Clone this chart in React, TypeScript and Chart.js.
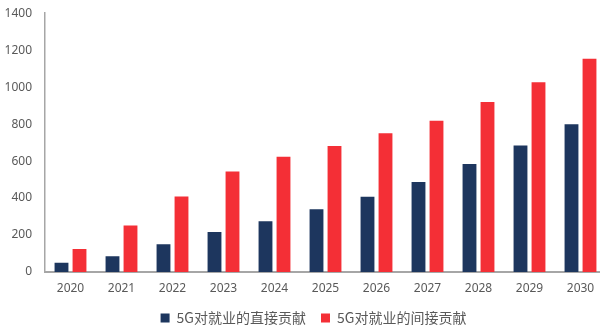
import React, { useEffect, useRef } from "react";
import { Chart, registerables } from "chart.js";

Chart.register(...registerables);

const categories = ["2020", "2021", "2022", "2023", "2024", "2025", "2026", "2027", "2028", "2029", "2030"];
const directValues = [50, 85, 150, 217, 275, 340, 407, 487, 584, 684, 799];
const indirectValues = [125, 251, 409, 543, 624, 682, 751, 818, 919, 1027, 1154];
const seriesNames = ["5G对就业的直接贡献", "5G对就业的间接贡献"];
const yMin = 0;
const yMax = 1400;
const yStep = 200;

const legendTweak = {
  id: "legendTweak",
  beforeLayout(chart: any) {
    const l = chart.legend;
    if (l && !l._patched) {
      const orig = l.fit.bind(l);
      l.fit = function () {
        orig();
        this.height = 36;
      };
      l._patched = true;
    }
  },
  afterLayout(chart: any) {
    const l = chart.legend;
    if (!l) return;
    l.left += 10.5;
    l.right += 10.5;
  },
};

export default function App() {
  const ref = useRef<HTMLCanvasElement | null>(null);

  useEffect(() => {
    if (!ref.current) return;
    const chart = new Chart(ref.current, {
      type: "bar",
      data: {
        labels: categories,
        datasets: [
          {
            label: seriesNames[0],
            data: directValues,
            backgroundColor: "#1d365e",
            barPercentage: 0.77,
            categoryPercentage: 0.706,
          },
          {
            label: seriesNames[1],
            data: indirectValues,
            backgroundColor: "#f42f36",
            barPercentage: 0.77,
            categoryPercentage: 0.706,
          },
        ],
      },
      plugins: [legendTweak],
      options: {
        animation: false,
        responsive: false,
        layout: { padding: 0 },
        plugins: {
          tooltip: { enabled: false },
          legend: {
            position: "bottom",
            labels: {
              boxWidth: 9,
              boxHeight: 9,
              padding: 15,
              color: "#595959",
              font: { family: "'Noto Sans CJK SC', 'Noto Sans', sans-serif", size: 14 },
            },
          },
        },
        scales: {
          x: {
            grid: { display: false, drawTicks: false },
            border: { display: true, color: "#a6a6a6", width: 2 },
            afterFit: (scale: any) => {
              scale.height = 24;
            },
            ticks: {
              color: "#595959",
              padding: 9,
              font: { family: "'Noto Sans', sans-serif", size: 12 },
            },
          },
          y: {
            min: yMin,
            max: yMax,
            grid: { display: false, drawTicks: false },
            border: { display: true, color: "#a6a6a6", width: 1.5 },
            afterFit: (scale: any) => {
              scale.width = 45;
            },
            ticks: {
              stepSize: yStep,
              color: "#595959",
              padding: 13,
              font: { family: "'Noto Sans', sans-serif", size: 12 },
              callback: (v: any) => String(v),
            },
          },
        },
      },
    });
    return () => chart.destroy();
  }, []);

  return (
    <div
      style={{
        position: "fixed",
        left: 0,
        top: 0,
        width: 600,
        height: 332,
        overflow: "hidden",
        background: "#ffffff",
      }}
    >
      <canvas
        ref={ref}
        width={606}
        height={339}
        style={{ position: "absolute", left: 0, top: -7, width: 606, height: 339, display: "block" }}
      />
    </div>
  );
}
